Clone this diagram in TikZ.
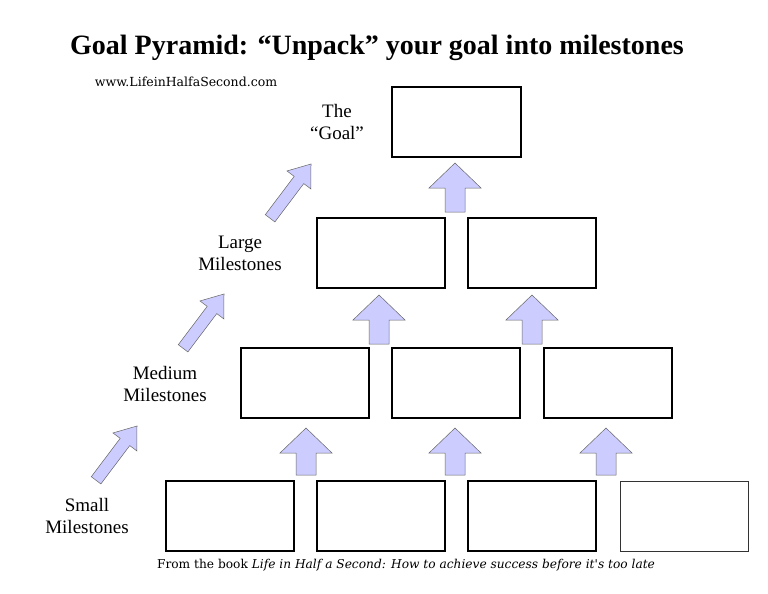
\documentclass[tikz,border=0pt]{standalone}
\usepackage{fontspec}
\setmainfont{Liberation Serif}
\newfontfamily\dvs{DejaVu Serif}
\begin{document}
\begin{tikzpicture}[x=1pt,y=-1pt,
  goalbox/.style={draw=black,line width=1.2pt,fill=white},
  arr/.style={draw=black!60,fill=blue!20!white,line width=0.5pt,line join=miter},
  lbl/.style={font=\fontsize{19}{22}\selectfont,align=center}]
\useasboundingbox (0,0) rectangle (768,594);
\newcommand\uparr[3]{\fill[arr] (#1,#2) -- (#1+26,#2+25) -- (#1+10,#2+25) -- (#1+10,#3) -- (#1-10,#3) -- (#1-10,#2+25) -- (#1-26,#2+25) -- cycle;}
\newcommand\diagarr[3]{\begin{scope}[shift={(#1,#2)},rotate=#3]
 \fill[arr] (0,0) -- (15,20) -- (6,20) -- (6,68) -- (-6,68) -- (-6,20) -- (-15,20) -- cycle;\end{scope}}
\node[goalbox,minimum width=129pt,minimum height=70pt] (g) at (456.5,122) {};
\foreach \n/\x/\y in {l1/381/253,l2/532/253,m1/305/383,m2/456/383,m3/608/383,s1/230/516,s2/381/516,s3/532/516}
  \node[goalbox,minimum width=128pt,minimum height=70pt] (\n) at (\x,\y) {};
\node[draw=black!80,line width=0.8pt,minimum width=128pt,minimum height=70pt] (s4) at (684,516) {};
\uparr{455}{163}{212}
\uparr{379}{295}{344}
\uparr{532}{295}{344}
\uparr{306}{428}{475}
\uparr{455}{428}{475}
\uparr{606}{428}{475}
\diagarr{137}{426}{-37}
\diagarr{224}{294}{-37}
\diagarr{311}{164}{-37}
\node[font=\bfseries\fontsize{28}{32}\selectfont] (t) at (377,48) {Goal Pyramid: “Unpack” your goal into milestones};
\node[font=\dvs\fontsize{12.5}{14}\selectfont] (u) at (186,82) {www.LifeinHalfaSecond.com};
\node[lbl] (a) at (337,122) {The\\“Goal”};
\node[lbl] (b) at (240,253) {Large\\Milestones};
\node[lbl] (c) at (165,384) {Medium\\Milestones};
\node[lbl] (d) at (87,516) {Small\\Milestones};
\node[font=\dvs\fontsize{12.2}{14}\selectfont] (f) at (406,565) {From the book \textit{Life in Half a Second: How to achieve success before it's too late}};
\end{tikzpicture}
\end{document}
